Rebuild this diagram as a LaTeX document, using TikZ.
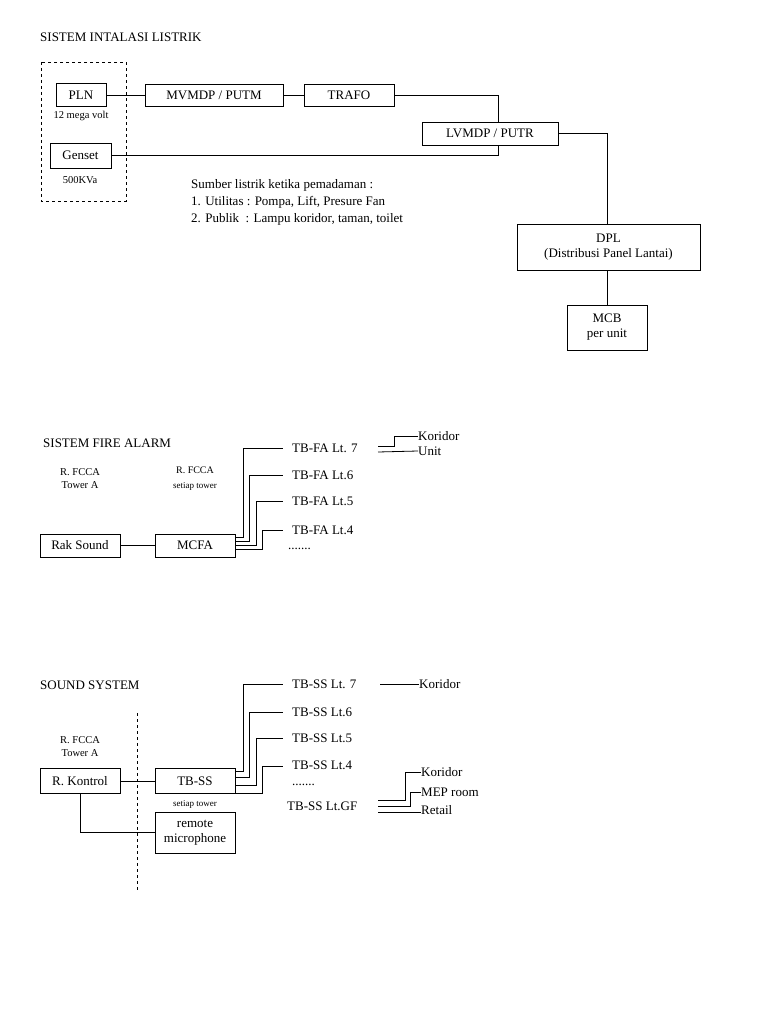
\documentclass[tikz,border=0pt]{standalone}
\usepackage{fontspec}
\setmainfont{Liberation Serif}
\begin{document}
\begin{tikzpicture}[x=1pt,y=-1pt,
  box/.style={draw,line width=0.8pt,inner sep=0pt,font=\fontsize{13}{15}\selectfont,align=center},
  txt/.style={inner sep=0pt,font=\fontsize{13}{15}\selectfont,anchor=west},
  sm/.style={inner sep=0pt,font=\fontsize{10.5}{13}\selectfont,align=center},
  ln/.style={line width=0.8pt}]
\useasboundingbox (0,0) rectangle (768,1024);
% ---- Listrik
\node[txt] (t1) at (40,37) {SISTEM INTALASI LISTRIK};
\draw[dashed,line width=0.6pt] (41,62) rectangle (126,201);
\node[box,minimum width=50,minimum height=23] (pln) at (81,95) {PLN};
\node[sm] (plnv) at (81,116) {12 mega volt};
\node[box,minimum width=61,minimum height=25] (gen) at (80.5,155.5) {Genset};
\node[sm] (genv) at (80,180) {500KVa};
\node[box,minimum width=138,minimum height=22] (mv) at (214,95) {MVMDP / PUTM};
\node[box,minimum width=90,minimum height=22] (tr) at (349,95) {TRAFO};
\node[box,minimum width=136,minimum height=23] (lv) at (490,133.5) {LVMDP / PUTR};
\node[box,minimum width=183,minimum height=46] (dpl) at (608.5,247) {DPL\\ (Distribusi Panel Lantai)};
\node[box,minimum width=80,minimum height=45] (mcb) at (607,327.5) {MCB\\per unit};
\node[txt,align=left,anchor=north west,font=\fontsize{13}{17}\selectfont] (sum) at (191,179) {Sumber listrik ketika pemadaman :\\1. Utilitas : Pompa, Lift, Presure Fan\\2. Publik \ : Lampu koridor, taman, toilet};
\draw[ln] (pln) -- (mv);
\draw[ln] (mv) -- (tr);
\draw[ln] (tr.east) -| (lv.north -| 498,0);
\draw[ln] (gen.east) -| (lv.south -| 498,0);
\draw[ln] (lv.east) -| (dpl.north -| 607,0);
\draw[ln] (dpl.south -| 607,0) -- (mcb.north);
% ---- Fire alarm
\node[txt] (t2) at (43,443) {SISTEM FIRE ALARM};
\node[sm] (f1) at (80,479) {R. FCCA\\Tower A};
\node[sm,font=\fontsize{10}{15}\selectfont] (f2) at (195,479) {R. FCCA\\{\fontsize{9}{12}\selectfont setiap tower}};
\node[box,minimum width=80,minimum height=23] (rak) at (80,545.5) {Rak Sound};
\node[box,minimum width=80,minimum height=23] (mcfa) at (195,545.5) {MCFA};
\draw[ln] (rak) -- (mcfa);
\node[txt] (fa7) at (292,448) {TB-FA Lt. 7};
\node[txt] (fa6) at (292,475) {TB-FA Lt.6};
\node[txt] (fa5) at (292,501) {TB-FA Lt.5};
\node[txt] (fa4) at (292,530) {TB-FA Lt.4};
\node[txt] (fad) at (288,549) {.......};
\draw[ln] (mcfa.east |- 0,537) -| (243,448) -- (283,448);
\draw[ln] (mcfa.east |- 0,541) -| (249,475) -- (283,475);
\draw[ln] (mcfa.east |- 0,545) -| (256,501) -- (283,501);
\draw[ln] (mcfa.east |- 0,549) -| (262,530) -- (283,530);
\node[txt] (kor1) at (418,436) {Koridor};
\node[txt] (unit) at (418,451) {Unit};
\draw[ln] (378,446) -- (394,446) |- (kor1.west);
\draw[ln] (378,452) -- (kor1.west |- unit.west);
% ---- Sound system
\node[txt] (t3) at (40,685) {SOUND SYSTEM};
\draw[dashed,line width=0.6pt] (137,713) -- (137,890);
\node[sm] (s1) at (80,747) {R. FCCA\\Tower A};
\node[box,minimum width=80,minimum height=25] (rk) at (80,781) {R. Kontrol};
\node[box,minimum width=80,minimum height=25] (tbss) at (195,781) {TB-SS};
\node[sm,font=\fontsize{9}{12}\selectfont] (st) at (195,804) {setiap tower};
\node[box,minimum width=80,minimum height=41] (rm) at (195,832.5) {remote\\microphone};
\draw[ln] (rk) -- (tbss);
\draw[ln] (rk.south) |- (rm.west);
\node[txt] (ss7) at (292,684) {TB-SS Lt. 7};
\node[txt] (ss6) at (292,712) {TB-SS Lt.6};
\node[txt] (ss5) at (292,738) {TB-SS Lt.5};
\node[txt] (ss4) at (292,765) {TB-SS Lt.4};
\node[txt] (ssd) at (292,785) {.......};
\node[txt] (ssgf) at (287,806) {TB-SS Lt.GF};
\draw[ln] (tbss.east |- 0,771) -| (243,684) -- (283,684);
\draw[ln] (tbss.east |- 0,777) -| (249,712) -- (283,712);
\draw[ln] (tbss.east |- 0,785) -| (256,738) -- (283,738);
\draw[ln] (tbss.east |- 0,793) -| (262,766) -- (283,766);
\node[txt] (kor2) at (419,684) {Koridor};
\draw[ln] (380,684) -- (kor2.west);
\node[txt] (kor3) at (421,772) {Koridor};
\node[txt] (mep) at (421,792) {MEP room};
\node[txt] (ret) at (421,810) {Retail};
\draw[ln] (378,800) -- (405,800) |- (kor3.west);
\draw[ln] (378,806) -- (410,806) |- (mep.west);
\draw[ln] (378,812) -- (ret.west |- 0,812);
\end{tikzpicture}
\end{document}
